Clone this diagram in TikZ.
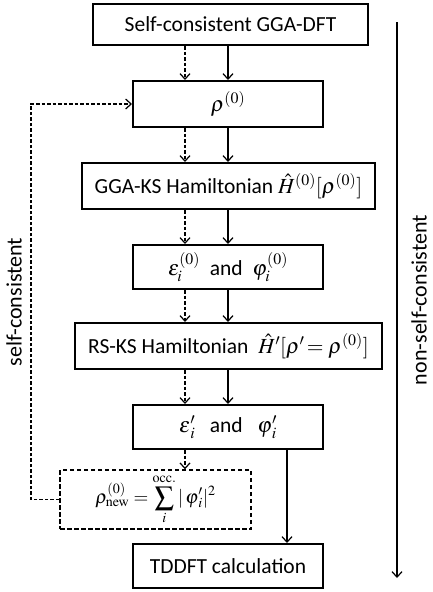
\documentclass[tikz,border=0pt]{standalone}
\usepackage{mathptmx}
\usepackage{amsmath}
\usepackage{fontspec}
\setmainfont{Carlito}
\usetikzlibrary{arrows.meta}
\begin{document}
\begin{tikzpicture}[x=1pt,y=-1pt,
  box/.style={draw,line width=2pt,minimum width=190pt,minimum height=44pt,inner sep=0pt,font=\fontsize{21.5}{26}\selectfont},
  dbox/.style={draw,line width=1.4pt,dash pattern=on 4.5pt off 2.5pt,minimum width=191pt,minimum height=59pt,inner sep=0pt,font=\fontsize{19}{24}\selectfont},
  arr/.style={line width=1.2pt,-{Straight Barb[length=5.5pt,width=10pt,line width=1.2pt]}},
  darr/.style={arr,dash pattern=on 3.5pt off 2pt},
  lbl/.style={font=\fontsize{22}{26}\selectfont,rotate=90}]
\useasboundingbox (0,0) rectangle (432,592);
\node[box,minimum width=275pt,minimum height=41pt] (b1) at (230.5,24.5) {Self-consistent GGA-DFT};
\node[box,minimum height=46pt] (b2) at (228,104) {$\rho^{(0)}$};
\node[box,minimum width=293pt,minimum height=46pt] (b3) at (228.5,186) {GGA-KS Hamiltonian\ $\hat{H}^{(0)}[\rho^{(0)}]$};
\node[box] (b4) at (228,267) {$\varepsilon_i^{(0)}$\ \ and\ \ $\varphi_i^{(0)}$};
\node[box,minimum width=307pt,minimum height=46pt] (b5) at (228.5,346) {RS-KS Hamiltonian\ \ $\hat{H}'[\rho'\!=\rho^{(0)}]$};
\node[box] (b6) at (228,427) {$\varepsilon'_{\,i}$\ \ \ and\ \ \ $\varphi'_{\,i}$};
\node[dbox] (b7) at (155.5,499.5) {$\displaystyle\rho^{(0)}_{\mathrm{new}}=\sum_{i}^{\mathrm{occ.}}|\,\varphi'_{\,i}|^{2}$};
\node[box] (b8) at (228,566) {TDDFT calculation};
\coordinate (dl) at (185,0);
\coordinate (sl) at (228,0);
\coordinate (tl) at (287,0);
\coordinate (lp) at (31,0);
\foreach \a/\b in {b1/b2,b2/b3,b3/b4,b4/b5,b5/b6}{
  \draw[darr] (\a.south -| dl) -- (\b.north -| dl);
  \draw[arr] (\a.south -| sl) -- (\b.north -| sl);
}
\draw[darr] (b6.south -| dl) -- (b7.north -| dl);
\draw[arr] (b6.south -| tl) -- (b8.north -| tl);
\draw[darr] (b7.west) -- (lp |- b7.west) |- (b2.west);
\coordinate (ra) at (397,22);
\coordinate (rb) at (397,578);
\draw[arr] (ra) -- (rb);
\node[lbl] (nsc) at (419,300) {non-self-consistent};
\node[lbl] (sc) at (14,302) {self-consistent};
\end{tikzpicture}
\end{document}
